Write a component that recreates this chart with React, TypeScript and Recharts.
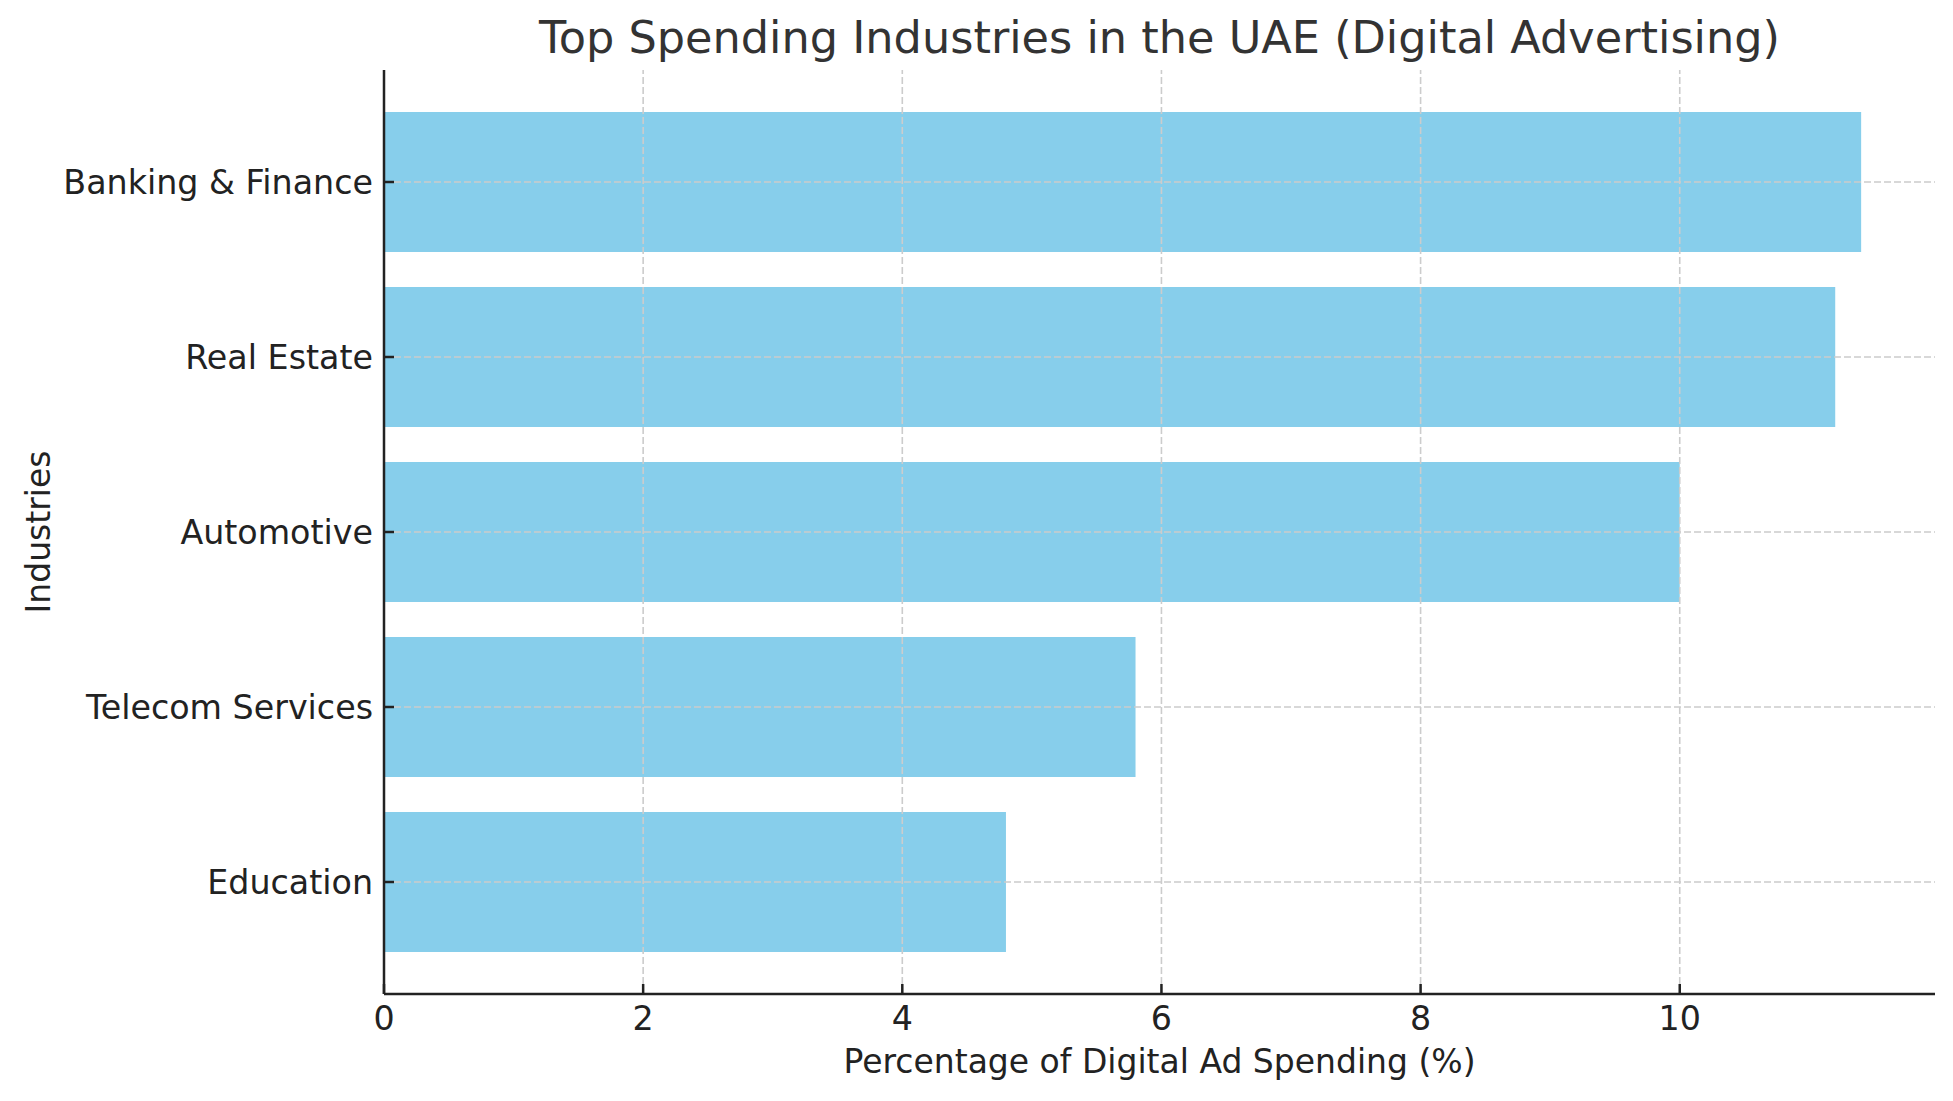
import React from 'react';
import { BarChart, Bar, XAxis, YAxis, ReferenceLine, Label } from 'recharts';

// Share of digital ad spending by industry (%)
const industries = ['Banking & Finance', 'Real Estate', 'Automotive', 'Telecom Services', 'Education'];
const spendingShare = [11.4, 11.2, 10.0, 5.8, 4.8];
const xTicks = [0, 2, 4, 6, 8, 10];

const data = industries.map((name, i) => ({ name, value: spendingShare[i] }));

const W = 1953;
const H = 1101;
const FONT = '"DejaVu Sans", Verdana, sans-serif';
const INK = '#222222';
const GRID = { stroke: '#cccccc', strokeDasharray: '7 3', strokeWidth: 1.6 };

const XLabel = (props: any) => {
  const vb = props.viewBox || {};
  return (
    <text x={vb.x + vb.width / 2} y={vb.y + 79} textAnchor="middle" fontFamily={FONT} fontSize={33} fill={INK}>
      Percentage of Digital Ad Spending (%)
    </text>
  );
};

const YLabel = (props: any) => {
  const vb = props.viewBox || {};
  const x = 50;
  const y = vb.y + vb.height / 2;
  return (
    <text x={x} y={y} transform={`rotate(-90 ${x} ${y})`} textAnchor="middle" fontFamily={FONT} fontSize={33} fill={INK}>
      Industries
    </text>
  );
};

export default function App() {
  return (
    <div style={{ position: 'absolute', left: 0, top: 0, width: W, height: H, background: '#ffffff' }}>
      <div
        style={{
          position: 'absolute',
          left: 384,
          width: 1551,
          top: 16,
          textAlign: 'center',
          fontFamily: FONT,
          fontSize: 44.6,
          lineHeight: '45px',
          color: '#333333',
          whiteSpace: 'nowrap',
        }}
      >
        Top Spending Industries in the UAE (Digital Advertising)
      </div>
      <BarChart
        width={W}
        height={H}
        data={data}
        layout="vertical"
        margin={{ top: 70, right: 18, bottom: 0, left: 0 }}
        barCategoryGap="10%"
      >
        <Bar dataKey="value" fill="#87CEEB" isAnimationActive={false} />
        {/* dashed grid drawn over the bars */}
        {xTicks.slice(1).map((t) => (
          <ReferenceLine key={`gx-${t}`} x={t} {...GRID} />
        ))}
        {industries.map((name) => (
          <ReferenceLine key={`gy-${name}`} y={name} {...GRID} />
        ))}
        <XAxis
          type="number"
          domain={[0, (dataMax: number) => dataMax * 1.05]}
          ticks={xTicks}
          interval={0}
          height={107}
          axisLine={{ stroke: INK, strokeWidth: 2.5 }}
          tickLine={{ stroke: INK, strokeWidth: 2.5 }}
          tickSize={-10}
          tickMargin={22.5}
          tick={{ fill: INK, fontSize: 33.3, fontFamily: FONT }}
        >
          <Label content={<XLabel />} />
        </XAxis>
        <YAxis
          type="category"
          dataKey="name"
          width={384}
          interval={0}
          padding={{ top: 24.5, bottom: 24.5 }}
          axisLine={{ stroke: INK, strokeWidth: 2.5 }}
          tickLine={{ stroke: INK, strokeWidth: 2.5 }}
          tickSize={-10}
          tickMargin={21}
          tick={{ fill: INK, fontSize: 33.3, fontFamily: FONT }}
        >
          <Label content={<YLabel />} />
        </YAxis>
      </BarChart>
    </div>
  );
}
